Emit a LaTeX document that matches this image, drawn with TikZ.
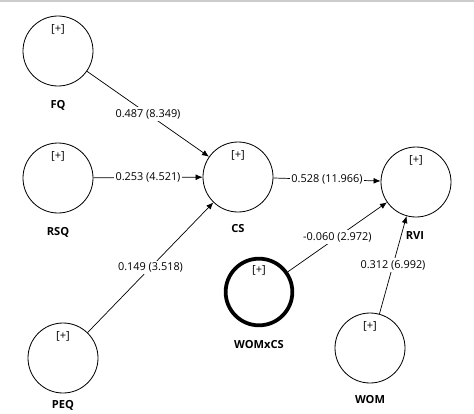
\documentclass[tikz,border=0pt]{standalone}
\usepackage{fontspec}
\setmainfont{Open Sans}
\usetikzlibrary{arrows.meta}
\begin{document}
\begin{tikzpicture}[x=0.03cm,y=-0.03cm]
% Styles
\tikzstyle{construit}=[draw,circle,line width=0.7pt,minimum size=2.1cm,inner sep=0pt]
\tikzstyle{interaction}=[construit,line width=3.2pt,minimum size=2.0cm]
\tikzstyle{signe}=[font=\fontsize{9.5}{10}\selectfont]
\tikzstyle{nom}=[font=\bfseries\fontsize{9.5}{10}\selectfont]
\tikzstyle{fleche}=[->,>={Latex[length=6pt,width=5pt]},line width=0.6pt]
\tikzstyle{coef}=[fill=white,inner sep=1.5pt,font=\fontsize{9.3}{10}\selectfont]
% Cadre
\useasboundingbox (0,0) rectangle (474,413);
\draw[black!20,line width=1.5pt] (0,1) -- (474,1);
% Variables exogenes
\node[construit] (FQ) at (58,51) {};
\node[signe] (FQp) at (58,29) {[+]};
\node[nom] (FQn) at (58,105) {FQ};
\node[construit] (RSQ) at (58,178) {};
\node[signe] (RSQp) at (58,156) {[+]};
\node[nom] (RSQn) at (58,232) {RSQ};
\node[construit] (PEQ) at (63,358) {};
\node[signe] (PEQp) at (63,336) {[+]};
\node[nom] (PEQn) at (63,405) {PEQ};
% Variables endogenes
\node[construit] (CS) at (238,177) {};
\node[signe] (CSp) at (238,155) {[+]};
\node[nom] (CSn) at (238,229) {CS};
\node[construit] (RVI) at (416,182) {};
\node[signe] (RVIp) at (416,160) {[+]};
\node[nom] (RVIn) at (415,236) {RVI};
% Moderation
\node[interaction] (WOMxCS) at (259,292) {};
\node[signe] (WOMxCSp) at (259,270) {[+]};
\node[nom] (WOMxCSn) at (259,345) {WOMxCS};
\node[construit] (WOM) at (370,348) {};
\node[signe] (WOMp) at (370,326) {[+]};
\node[nom] (WOMn) at (370,400) {WOM};
% Relations
\draw[fleche] (FQ) -- node[coef] {0.487 (8.349)} (CS);
\draw[fleche] (RSQ) -- node[coef] {0.253 (4.521)} (CS);
\draw[fleche] (PEQ) -- node[coef] {0.149 (3.518)} (CS);
\draw[fleche] (CS) -- node[coef] {0.528 (11.966)} (RVI);
\draw[fleche] (WOMxCS) -- node[coef] {-0.060 (2.972)} (RVI);
\draw[fleche] (WOM) -- node[coef] {0.312 (6.992)} (RVI);
\end{tikzpicture}
\end{document}
